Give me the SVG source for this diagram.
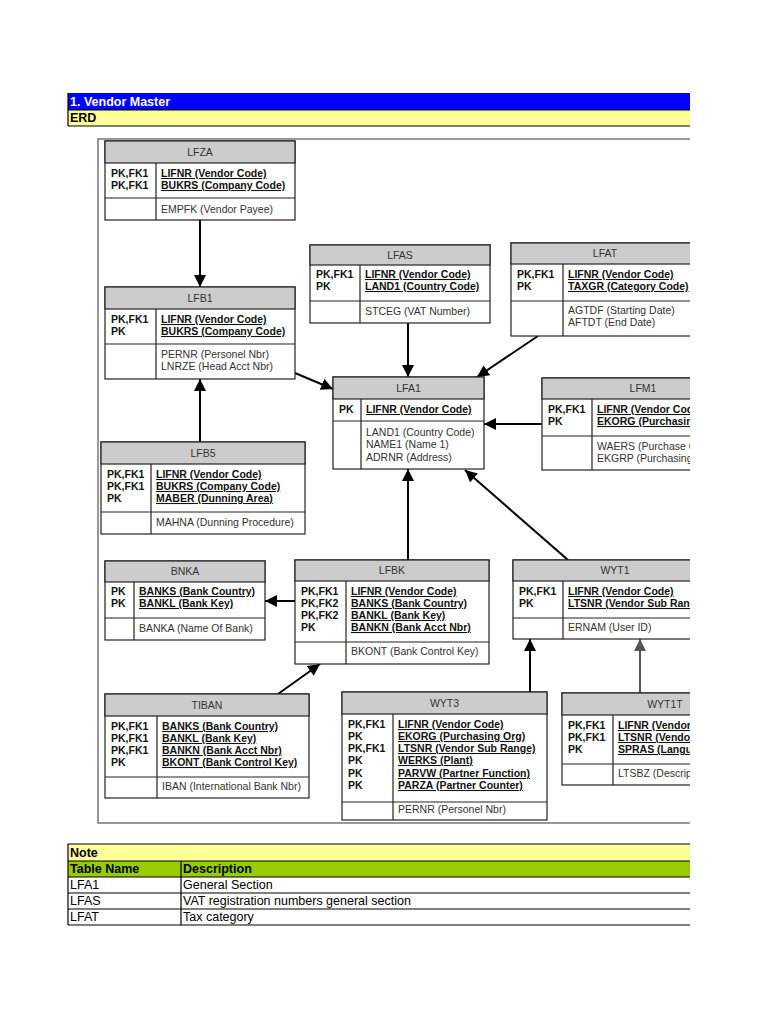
<svg xmlns="http://www.w3.org/2000/svg" width="768" height="1024" viewBox="0 0 768 1024">
<defs>
<clipPath id="clip"><rect x="0" y="0" width="690" height="1024"/></clipPath>
<marker id="ah" viewBox="0 0 12 12" refX="12" refY="6" markerWidth="12" markerHeight="12" orient="auto" markerUnits="userSpaceOnUse"><path d="M0,0 L12,6 L0,12 z" fill="#000"/></marker>
<marker id="ahg" viewBox="0 0 12 12" refX="12" refY="6" markerWidth="12" markerHeight="12" orient="auto" markerUnits="userSpaceOnUse"><path d="M0,0 L12,6 L0,12 z" fill="#555"/></marker>
<style>
text{font-family:"Liberation Sans",Arial,sans-serif;}
.hd{fill:#cccccc;stroke:#222;stroke-width:1.2;}
.bd{fill:#fff;stroke:#222;stroke-width:1.2;}
.ln{stroke:#222;stroke-width:1.2;}
.t{font-size:10.5px;fill:#333;text-anchor:middle;}
.k{font-size:10.5px;font-weight:bold;fill:#111;}
.f{font-size:10.5px;font-weight:bold;fill:#111;text-decoration:underline;}
.a{font-size:10.5px;fill:#333;}
.c{stroke:#000;stroke-width:2;fill:none;marker-end:url(#ah);}
.cg{stroke:#555;stroke-width:2;fill:none;marker-end:url(#ahg);}
.h1{font-size:12.5px;font-weight:bold;fill:#fff;}
.h2{font-size:12.5px;font-weight:bold;fill:#000;}
.tb{font-size:12.5px;fill:#000;}
.tl{stroke:#000;stroke-width:1.2;}
</style>
</defs>
<g clip-path="url(#clip)">
<g id="header">
<rect x="68" y="93" width="622" height="17" fill="#0000ff"/>
<rect x="68" y="110" width="622" height="16" fill="#ffff99"/>
<line x1="68" y1="110" x2="690" y2="110" class="tl" stroke-width="1.5"/>
<line x1="68" y1="126" x2="690" y2="126" class="tl"/>
<line x1="68" y1="93" x2="68" y2="126" class="tl"/>
<text x="70" y="106" class="h1">1. Vendor Master</text>
<text x="70" y="122" class="h2">ERD</text>
</g>
<rect id="frame" x="98" y="139" width="700" height="684" fill="none" stroke="#777" stroke-width="1.5"/>

<g id="connectors">
<line class="c" x1="200" y1="220" x2="200" y2="287"/>
<line class="c" x1="200" y1="442" x2="200" y2="379"/>
<line class="c" x1="295" y1="373" x2="333" y2="389"/>
<line class="c" x1="408" y1="323" x2="408" y2="377"/>
<line class="c" x1="538" y1="336" x2="477" y2="377"/>
<line class="c" x1="542" y1="424" x2="484" y2="424"/>
<line class="c" x1="408" y1="560" x2="408" y2="469"/>
<line class="c" x1="568" y1="560" x2="465" y2="470"/>
<line class="c" x1="295" y1="601" x2="265" y2="601"/>
<line class="c" x1="278" y1="694" x2="320" y2="664"/>
<line class="c" x1="530" y1="692" x2="530" y2="639"/>
<line class="cg" x1="640" y1="693" x2="640" y2="639"/>
</g>

<g id="LFZA">
<rect class="bd" x="105" y="141" width="190" height="79"/>
<rect class="hd" x="105" y="141" width="190" height="22"/>
<line class="ln" x1="105" y1="198" x2="295" y2="198"/>
<line class="ln" x1="156" y1="163" x2="156" y2="220"/>
<text class="t" x="200" y="156">LFZA</text>
<text class="k" x="111" y="177">PK,FK1</text>
<text class="k" x="111" y="189">PK,FK1</text>
<text class="f" x="161" y="177">LIFNR (Vendor Code)</text>
<text class="f" x="161" y="189">BUKRS (Company Code)</text>
<text class="a" x="161" y="213">EMPFK (Vendor Payee)</text>
</g>

<g id="LFB1">
<rect class="bd" x="105" y="287" width="190" height="92"/>
<rect class="hd" x="105" y="287" width="190" height="22"/>
<line class="ln" x1="105" y1="344" x2="295" y2="344"/>
<line class="ln" x1="156" y1="309" x2="156" y2="379"/>
<text class="t" x="200" y="302">LFB1</text>
<text class="k" x="111" y="323">PK,FK1</text>
<text class="k" x="111" y="335">PK</text>
<text class="f" x="161" y="323">LIFNR (Vendor Code)</text>
<text class="f" x="161" y="335">BUKRS (Company Code)</text>
<text class="a" x="161" y="358">PERNR (Personel Nbr)</text>
<text class="a" x="161" y="370">LNRZE (Head Acct Nbr)</text>
</g>

<g id="LFB5">
<rect class="bd" x="101" y="442" width="204" height="92"/>
<rect class="hd" x="101" y="442" width="204" height="22"/>
<line class="ln" x1="101" y1="512" x2="305" y2="512"/>
<line class="ln" x1="151" y1="464" x2="151" y2="534"/>
<text class="t" x="203" y="457">LFB5</text>
<text class="k" x="107" y="478">PK,FK1</text>
<text class="k" x="107" y="490">PK,FK1</text>
<text class="k" x="107" y="502">PK</text>
<text class="f" x="156" y="478">LIFNR (Vendor Code)</text>
<text class="f" x="156" y="490">BUKRS (Company Code)</text>
<text class="f" x="156" y="502">MABER (Dunning Area)</text>
<text class="a" x="156" y="526">MAHNA (Dunning Procedure)</text>
</g>

<g id="LFAS">
<rect class="bd" x="310" y="245" width="180" height="78"/>
<rect class="hd" x="310" y="245" width="180" height="20"/>
<line class="ln" x1="310" y1="301" x2="490" y2="301"/>
<line class="ln" x1="360" y1="265" x2="360" y2="323"/>
<text class="t" x="400" y="259">LFAS</text>
<text class="k" x="316" y="278">PK,FK1</text>
<text class="k" x="316" y="290">PK</text>
<text class="f" x="365" y="278">LIFNR (Vendor Code)</text>
<text class="f" x="365" y="290">LAND1 (Country Code)</text>
<text class="a" x="365" y="315">STCEG (VAT Number)</text>
</g>

<g id="LFAT">
<rect class="bd" x="511" y="243" width="188" height="93"/>
<rect class="hd" x="511" y="243" width="188" height="21"/>
<line class="ln" x1="511" y1="301" x2="699" y2="301"/>
<line class="ln" x1="563" y1="264" x2="563" y2="336"/>
<text class="t" x="605" y="257">LFAT</text>
<text class="k" x="517" y="278">PK,FK1</text>
<text class="k" x="517" y="290">PK</text>
<text class="f" x="568" y="278">LIFNR (Vendor Code)</text>
<text class="f" x="568" y="290">TAXGR (Category Code)</text>
<text class="a" x="568" y="314">AGTDF (Starting Date)</text>
<text class="a" x="568" y="326">AFTDT (End Date)</text>
</g>

<g id="LFA1">
<rect class="bd" x="333" y="377" width="151" height="92"/>
<rect class="hd" x="333" y="377" width="151" height="22"/>
<line class="ln" x1="333" y1="421" x2="484" y2="421"/>
<line class="ln" x1="361" y1="399" x2="361" y2="469"/>
<text class="t" x="408.5" y="392">LFA1</text>
<text class="k" x="339" y="413">PK</text>
<text class="f" x="366" y="413">LIFNR (Vendor Code)</text>
<text class="a" x="366" y="436">LAND1 (Country Code)</text>
<text class="a" x="366" y="448">NAME1 (Name 1)</text>
<text class="a" x="366" y="461">ADRNR (Address)</text>
</g>

<g id="LFM1">
<rect class="bd" x="542" y="378" width="202" height="92"/>
<rect class="hd" x="542" y="378" width="202" height="21"/>
<line class="ln" x1="542" y1="436" x2="744" y2="436"/>
<line class="ln" x1="592" y1="399" x2="592" y2="470"/>
<text class="t" x="643" y="392">LFM1</text>
<text class="k" x="548" y="413">PK,FK1</text>
<text class="k" x="548" y="425">PK</text>
<text class="f" x="597" y="413">LIFNR (Vendor Code)</text>
<text class="f" x="597" y="425">EKORG (Purchasing Org)</text>
<text class="a" x="597" y="450">WAERS (Purchase Order Currency)</text>
<text class="a" x="597" y="462">EKGRP (Purchasing Group)</text>
</g>

<g id="BNKA">
<rect class="bd" x="105" y="561" width="160" height="79"/>
<rect class="hd" x="105" y="561" width="160" height="21"/>
<line class="ln" x1="105" y1="618" x2="265" y2="618"/>
<line class="ln" x1="134" y1="582" x2="134" y2="640"/>
<text class="t" x="185" y="575">BNKA</text>
<text class="k" x="111" y="595">PK</text>
<text class="k" x="111" y="607">PK</text>
<text class="f" x="139" y="595">BANKS (Bank Country)</text>
<text class="f" x="139" y="607">BANKL (Bank Key)</text>
<text class="a" x="139" y="632">BANKA (Name Of Bank)</text>
</g>

<g id="LFBK">
<rect class="bd" x="295" y="560" width="194" height="104"/>
<rect class="hd" x="295" y="560" width="194" height="21"/>
<line class="ln" x1="295" y1="642" x2="489" y2="642"/>
<line class="ln" x1="346" y1="581" x2="346" y2="664"/>
<text class="t" x="392" y="574">LFBK</text>
<text class="k" x="301" y="595">PK,FK1</text>
<text class="k" x="301" y="607">PK,FK2</text>
<text class="k" x="301" y="619">PK,FK2</text>
<text class="k" x="301" y="631">PK</text>
<text class="f" x="351" y="595">LIFNR (Vendor Code)</text>
<text class="f" x="351" y="607">BANKS (Bank Country)</text>
<text class="f" x="351" y="619">BANKL (Bank Key)</text>
<text class="f" x="351" y="631">BANKN (Bank Acct Nbr)</text>
<text class="a" x="351" y="655">BKONT (Bank Control Key)</text>
</g>

<g id="WYT1">
<rect class="bd" x="513" y="560" width="204" height="79"/>
<rect class="hd" x="513" y="560" width="204" height="21"/>
<line class="ln" x1="513" y1="618" x2="717" y2="618"/>
<line class="ln" x1="563" y1="581" x2="563" y2="639"/>
<text class="t" x="615" y="574">WYT1</text>
<text class="k" x="519" y="595">PK,FK1</text>
<text class="k" x="519" y="607">PK</text>
<text class="f" x="568" y="595">LIFNR (Vendor Code)</text>
<text class="f" x="568" y="607">LTSNR (Vendor Sub Range)</text>
<text class="a" x="568" y="631">ERNAM (User ID)</text>
</g>

<g id="TIBAN">
<rect class="bd" x="105" y="694" width="204" height="104"/>
<rect class="hd" x="105" y="694" width="204" height="22"/>
<line class="ln" x1="105" y1="777" x2="309" y2="777"/>
<line class="ln" x1="157" y1="716" x2="157" y2="798"/>
<text class="t" x="207" y="709">TIBAN</text>
<text class="k" x="111" y="730">PK,FK1</text>
<text class="k" x="111" y="742">PK,FK1</text>
<text class="k" x="111" y="754">PK,FK1</text>
<text class="k" x="111" y="766">PK</text>
<text class="f" x="162" y="730">BANKS (Bank Country)</text>
<text class="f" x="162" y="742">BANKL (Bank Key)</text>
<text class="f" x="162" y="754">BANKN (Bank Acct Nbr)</text>
<text class="f" x="162" y="766">BKONT (Bank Control Key)</text>
<text class="a" x="162" y="790">IBAN (International Bank Nbr)</text>
</g>

<g id="WYT3">
<rect class="bd" x="342" y="692" width="205" height="128"/>
<rect class="hd" x="342" y="692" width="205" height="22"/>
<line class="ln" x1="342" y1="802" x2="547" y2="802"/>
<line class="ln" x1="393" y1="714" x2="393" y2="820"/>
<text class="t" x="444.5" y="707">WYT3</text>
<text class="k" x="348" y="728">PK,FK1</text>
<text class="k" x="348" y="740">PK</text>
<text class="k" x="348" y="752">PK,FK1</text>
<text class="k" x="348" y="764">PK</text>
<text class="k" x="348" y="777">PK</text>
<text class="k" x="348" y="789">PK</text>
<text class="f" x="398" y="728">LIFNR (Vendor Code)</text>
<text class="f" x="398" y="740">EKORG (Purchasing Org)</text>
<text class="f" x="398" y="752">LTSNR (Vendor Sub Range)</text>
<text class="f" x="398" y="764">WERKS (Plant)</text>
<text class="f" x="398" y="777">PARVW (Partner Function)</text>
<text class="f" x="398" y="789">PARZA (Partner Counter)</text>
<text class="a" x="398" y="813">PERNR (Personel Nbr)</text>
</g>

<g id="WYT1T">
<rect class="bd" x="562" y="693" width="206" height="92"/>
<rect class="hd" x="562" y="693" width="206" height="22"/>
<line class="ln" x1="562" y1="764" x2="768" y2="764"/>
<line class="ln" x1="613" y1="715" x2="613" y2="785"/>
<text class="t" x="665" y="708">WYT1T</text>
<text class="k" x="568" y="729">PK,FK1</text>
<text class="k" x="568" y="741">PK,FK1</text>
<text class="k" x="568" y="753">PK</text>
<text class="f" x="618" y="729">LIFNR (Vendor Code)</text>
<text class="f" x="618" y="741">LTSNR (Vendor Sub Range)</text>
<text class="f" x="618" y="753">SPRAS (Language Key)</text>
<text class="a" x="618" y="777">LTSBZ (Description)</text>
</g>

<g id="note-table">
<rect x="68" y="844" width="622" height="17" fill="#ffff99"/>
<rect x="68" y="861" width="622" height="16" fill="#99cc00"/>
<line class="tl" x1="68" y1="844" x2="690" y2="844"/>
<line class="tl" x1="68" y1="861" x2="690" y2="861"/>
<line class="tl" x1="68" y1="877" x2="690" y2="877"/>
<line class="tl" x1="68" y1="893" x2="690" y2="893"/>
<line class="tl" x1="68" y1="909" x2="690" y2="909"/>
<line class="tl" x1="68" y1="925" x2="690" y2="925"/>
<line class="tl" x1="68" y1="844" x2="68" y2="925"/>
<line class="tl" x1="181" y1="861" x2="181" y2="925"/>
<text class="h2" x="70" y="857">Note</text>
<text class="h2" x="70" y="873">Table Name</text>
<text class="h2" x="183" y="873">Description</text>
<text class="tb" x="70" y="889">LFA1</text>
<text class="tb" x="183" y="889">General Section</text>
<text class="tb" x="70" y="905">LFAS</text>
<text class="tb" x="183" y="905">VAT registration numbers general section</text>
<text class="tb" x="70" y="921">LFAT</text>
<text class="tb" x="183" y="921">Tax category</text>
</g>
</g>
</svg>
